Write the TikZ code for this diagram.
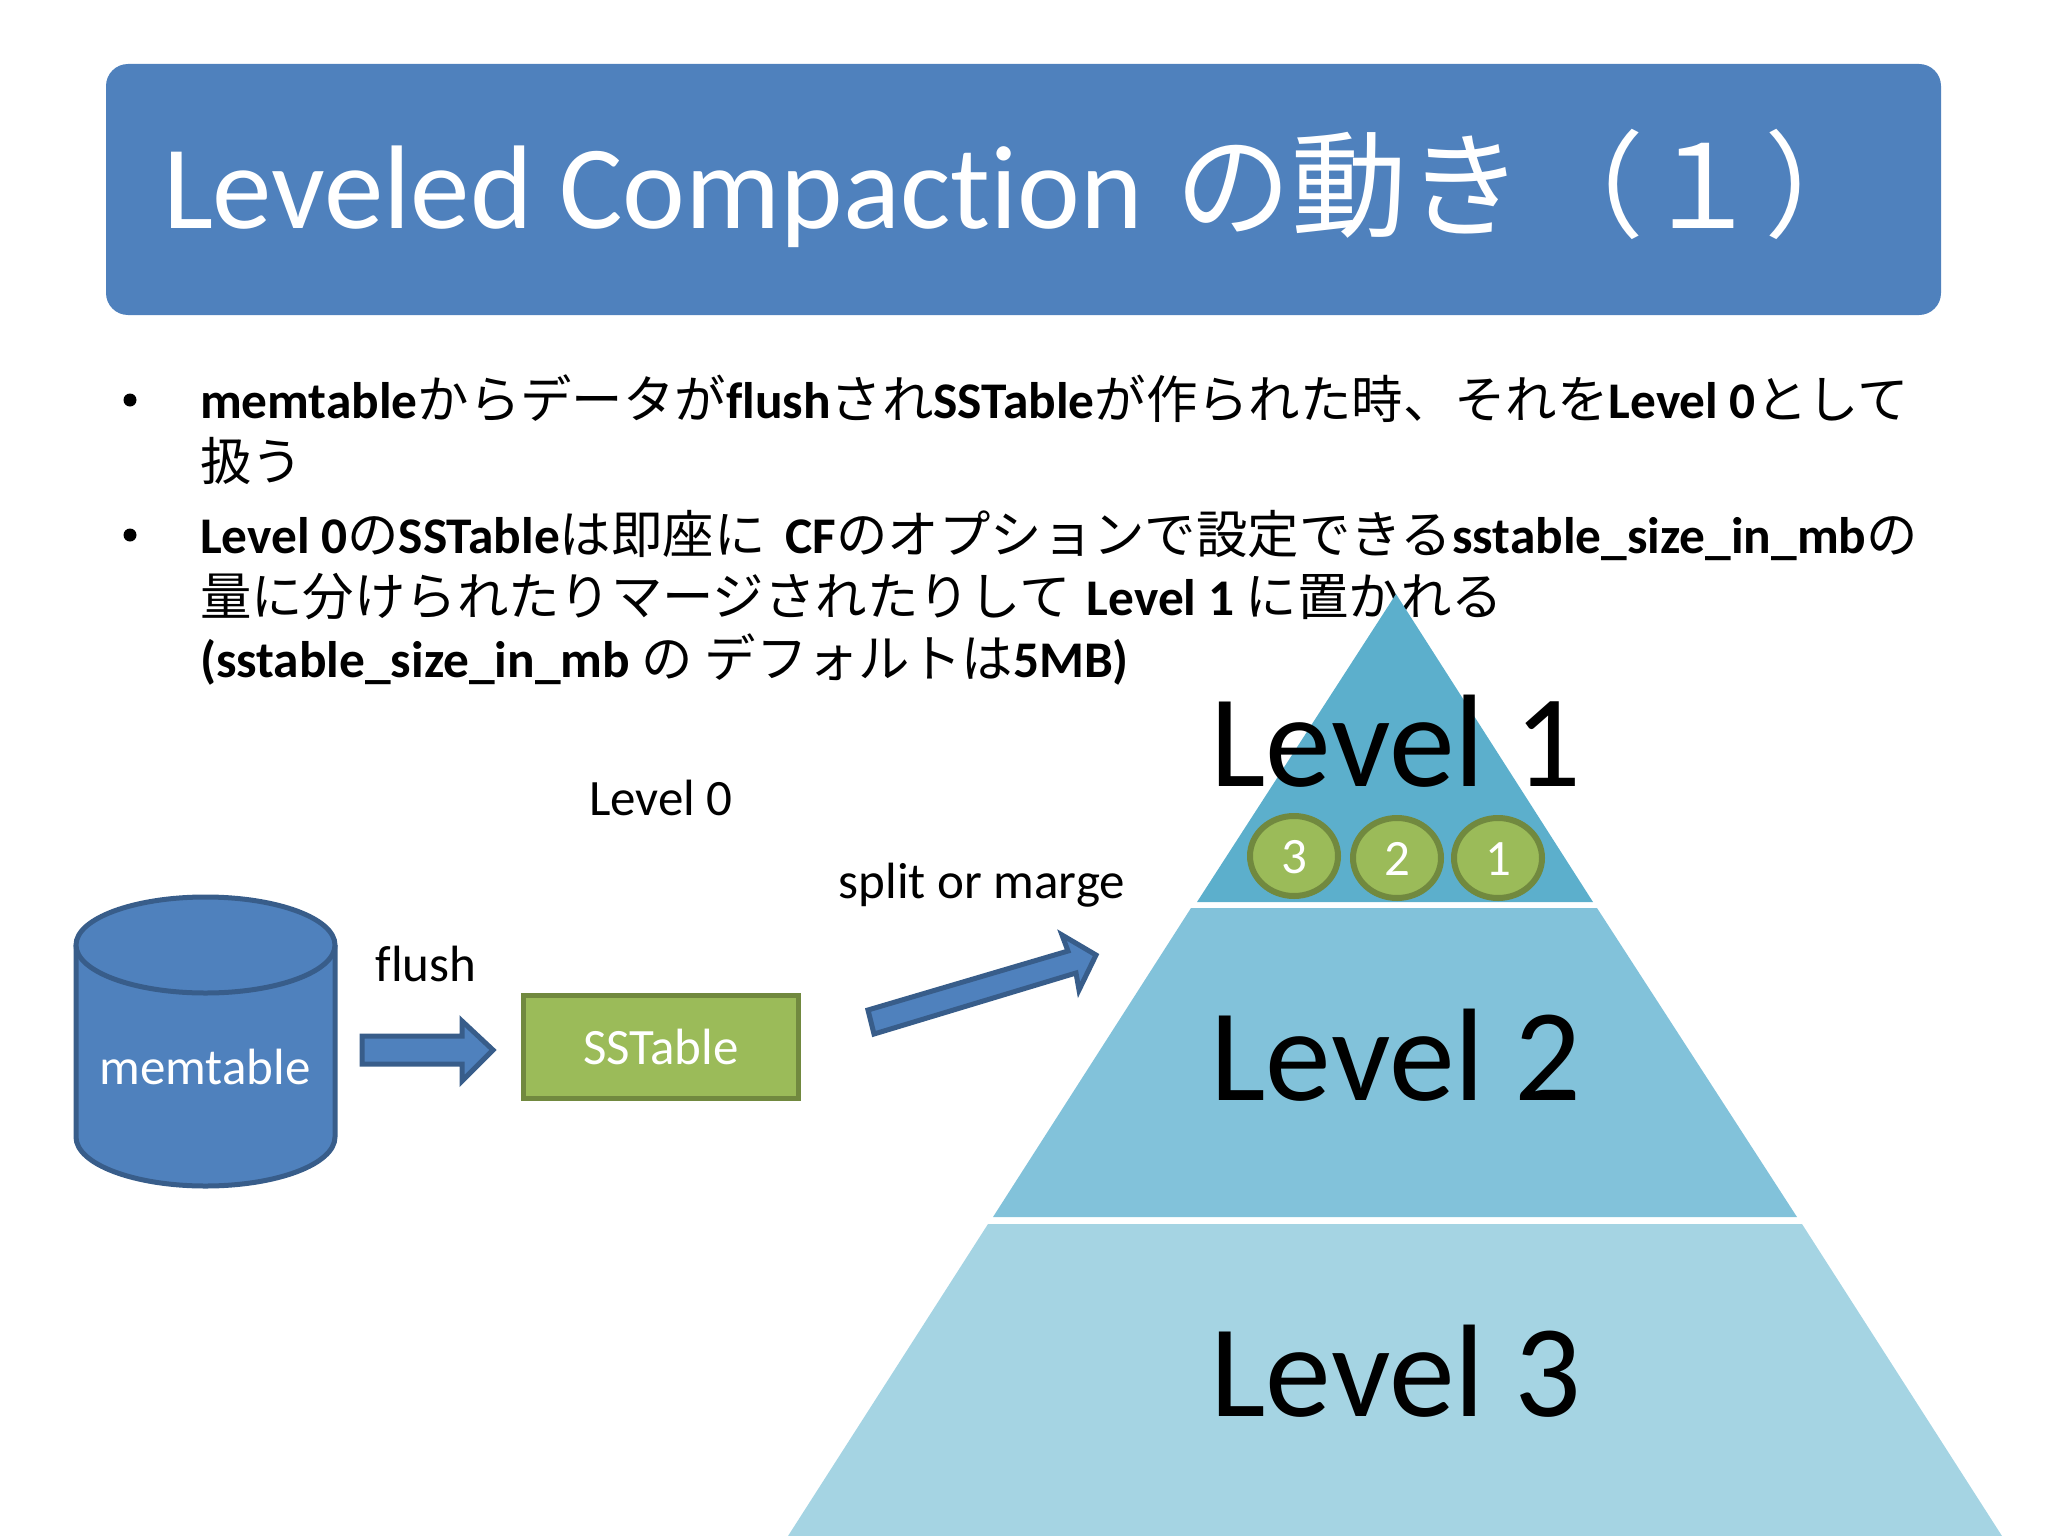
\documentclass[tikz,border=0pt]{standalone}
\usepackage{fontspec}
\setmainfont{Carlito}[Ligatures=NoCommon]
\newfontfamily\cjk{Noto Sans CJK JP}
\newcommand{\jp}[1]{{\cjk\mdseries #1}}
\definecolor{hdrblue}{HTML}{4F81BD}
\definecolor{edgeblue}{HTML}{385D8A}
\definecolor{lvlA}{HTML}{5CAFCC}
\definecolor{lvlB}{HTML}{82C2DA}
\definecolor{lvlC}{HTML}{A5D4E3}
\definecolor{grn}{HTML}{9BBB59}
\definecolor{grnedge}{HTML}{71893F}
\tikzset{
  txt/.style={inner sep=0pt,outer sep=0pt,anchor=base west,text=black},
  body/.style={txt,font=\fontsize{51.4}{60}\selectfont\bfseries},
  label/.style={inner sep=0pt,outer sep=0pt,anchor=base,text=black,font=\fontsize{51}{60}\selectfont},
  inlabel/.style={label,text=white},
  big/.style={inner sep=0pt,outer sep=0pt,anchor=base,text=black,font=\fontsize{131.7}{150}\selectfont},
  blockarrow/.style={fill=hdrblue,draw=edgeblue,line width=5pt,line join=miter},
  disc/.style={fill=grn,draw=grnedge,line width=6pt},
  num/.style={inner sep=0pt,outer sep=0pt,anchor=base,text=white,font=\fontsize{51}{60}\selectfont}
}
\begin{document}
\begin{tikzpicture}[x=1pt,y=-1pt]
\useasboundingbox (0,0) rectangle (2048,1536);
% title
\fill[hdrblue,rounded corners=22pt] (106,64) rectangle (1941,315);
\node[txt,text=white,font=\fontsize{119}{130}\selectfont] (title) at (163,228) {Leveled Compaction};
\node[txt,text=white,font=\fontsize{116}{130}\selectfont] (titlejp) at (1175,228) {\jp{の動き\kern6pt（１\kern4pt）}};
% bullets
\fill (130,400) circle (6.5pt);
\fill (130,535) circle (6.5pt);
\node[body] (l1) at (200,418) {memtable\jp{からデータが}flush\jp{され}SSTable\jp{が作られた時、それを}Level 0\jp{として}};
\node[body] (l2) at (200,480) {\jp{扱う}};
\node[body] (l3) at (200,553) {Level 0\jp{の}SSTable\jp{は即座に} \,CF\jp{のオプションで設定できる}sstable\_size\_in\_mb\jp{の}};
\node[body] (l4) at (200,615) {\jp{量に分けられたりマージされたりして} \kern4pt Level 1 \jp{に置かれる}};
\node[body] (l5) at (200,677) {(sstable\_size\_in\_mb \jp{の デフォルトは}5MB)};
% pyramid
\fill[lvlC] (988,1224) -- (1802,1224) -- (2002,1536) -- (788,1536) -- cycle;
\fill[lvlB] (1191,908) -- (1597,908) -- (1797,1217) -- (993,1217) -- cycle;
\fill[lvlA] (1396,594) -- (1593,902) -- (1197,902) -- cycle;
\node[big] (L1) at (1396,786) {Level 1};
\node[big] (L2) at (1396,1100) {Level 2};
\node[big] (L3) at (1396,1416) {Level 3};
\draw[disc] (1294,856) ellipse [x radius=44,y radius=40];
\draw[disc] (1397,858) ellipse [x radius=44,y radius=40];
\draw[disc] (1498,858) ellipse [x radius=44,y radius=40];
\node[num] (n3) at (1294,873) {3};
\node[num] (n2) at (1397,875) {2};
\node[num] (n1) at (1498,875) {1};
% cylinder
\draw[fill=hdrblue,draw=edgeblue,line width=5pt] (76,945) -- (76,1137) arc[start angle=180,end angle=0,x radius=129.5,y radius=49] -- (335,945);
\draw[fill=hdrblue,draw=edgeblue,line width=5pt] (205.5,945) ellipse [x radius=129.5,y radius=48];
\node[inlabel] (mem) at (205,1084) {memtable};
% flush arrow
\draw[blockarrow] (362,1036) -- (462,1036) -- (462,1021) -- (493,1050) -- (462,1081) -- (462,1064) -- (362,1064) -- cycle;
% sstable
\node[draw=grnedge,fill=grn,line width=5pt,minimum width=275pt,minimum height=103pt,inner sep=0pt,text=white,font=\fontsize{51}{60}\selectfont] (sst) at (661,1047) {SSTable};
% split arrow
\draw[blockarrow] (868,1010) -- (1068,951) -- (1062,935) -- (1096,955) -- (1079,990) -- (1076,973) -- (874,1034) -- cycle;
% labels
\node[label] (lv0) at (661,815) {Level 0};
\node[label] (fl) at (426,981) {flush};
\node[label] (sp) at (982,898) {split or marge};
\end{tikzpicture}
\end{document}
